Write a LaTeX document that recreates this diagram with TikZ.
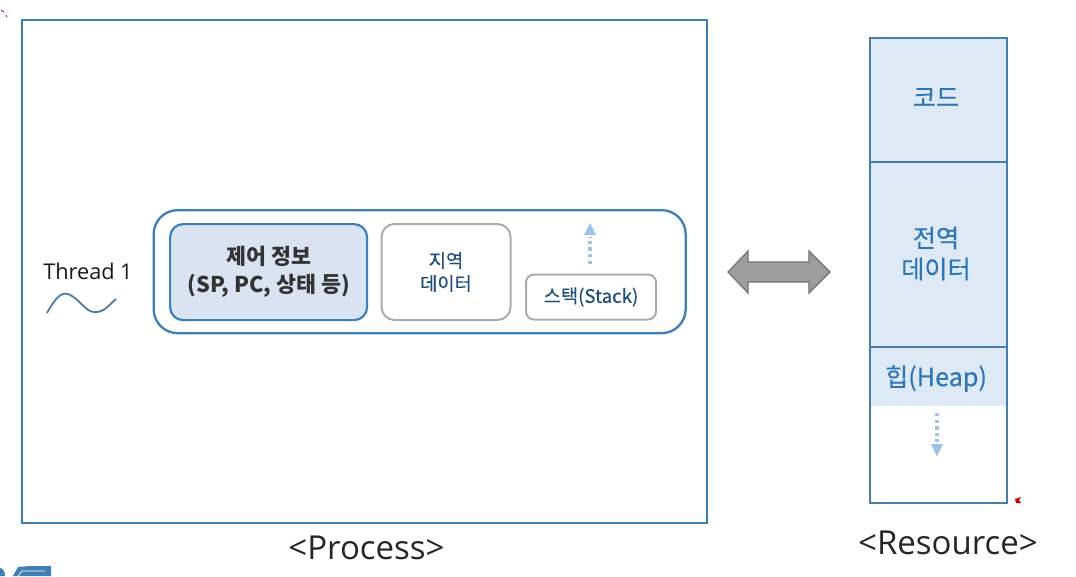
\documentclass[tikz,border=0pt]{standalone}
\usepackage{fontspec}
\setmainfont{Open Sans}
\newfontfamily\kr[FakeBold=0.25]{Noto Sans CJK KR}
\newfontfamily\krb{Noto Sans CJK KR}
\usetikzlibrary{arrows.meta}
\definecolor{frameblue}{HTML}{3E7FB5}
\definecolor{slateblue}{HTML}{4A7DA6}
\definecolor{ctlfill}{HTML}{D9E3F2}
\definecolor{memfill}{HTML}{DDEAF6}
\definecolor{memtext}{HTML}{2E75B6}
\definecolor{darktext}{HTML}{1F4E79}
\definecolor{boxgray}{HTML}{ABABAB}
\definecolor{dotblue}{HTML}{9DC3E6}
\tikzset{
  x=1pt,y=-1pt,
  framebox/.style={draw=frameblue,line width=2.3pt,fill=white},
  roundbox/.style={rounded corners=13pt,line width=2.2pt},
  graybox/.style={draw=boxgray,fill=white,line width=2pt},
  memcell/.style={draw=slateblue,line width=2pt,fill=memfill,minimum width=137pt,inner sep=0pt,anchor=north west},
  memlabel/.style={text=memtext,font=\kr\fontsize{25.2}{31}\selectfont,align=center},
  inlabel/.style={text=darktext,font=\kr\fontsize{18.7}{23}\selectfont,align=center},
  caption/.style={text=black!85,font=\fontsize{33}{38}\selectfont},
  growarrow/.style={draw=dotblue,line width=3.4pt,dash pattern=on 3.4pt off 3.2pt},
  growhead/.style={fill=dotblue,draw=none},
}
\begin{document}
\begin{tikzpicture}
\useasboundingbox (0,0) rectangle (1076,576);
\fill[white] (0,0) rectangle (1076,576);
\begin{scope}[shift={(-1,-1)}]
% process frame
\node[framebox,minimum width=685pt,minimum height=503pt,inner sep=0pt,anchor=north west] (proc) at (22,19.5) {};
\node[caption] (proclabel) at (367.5,549) {<Process>};
% thread
\node[anchor=center,text=black!90,font=\fontsize{21.7}{25}\selectfont] (thr) at (89,272.5) {Thread 1};
\coordinate (w0) at (48,314);
\coordinate (w1) at (117,300);
\draw[slateblue,line width=1.8pt] (w0) .. controls (58,296) and (64,291) .. (73,297) .. controls (84,304) and (88,315) .. (99,313) .. controls (106,312) and (111,305) .. (w1);
% thread block
\node[framebox,rounded corners=24pt,minimum width=532pt,minimum height=123pt,inner sep=0pt,anchor=north west] (tb) at (153.5,210) {};
\node[roundbox,draw=frameblue,fill=ctlfill,minimum width=197pt,minimum height=96pt,inner sep=0pt,anchor=north west,
  font=\krb\bfseries\fontsize{21.7}{28}\selectfont,text=black!80,align=center] (ctl) at (170,224) {제어 정보\\(SP, PC, 상태 등)};
\node[roundbox,graybox,minimum width=129pt,minimum height=96pt,inner sep=0pt,anchor=north west,inlabel] (loc) at (381.5,224) {지역\\데이터};
\node[graybox,rounded corners=8pt,minimum width=130pt,minimum height=45pt,inner sep=0pt,anchor=north west,inlabel] (stk) at (526,274.5) {\raisebox{-1.5pt}{스택(Stack)}};
\coordinate (stkhead) at (591,224);
\coordinate (stktail) at (591,265);
\draw[growarrow] (stktail) -- (591,238);
\fill[growhead] (stkhead) -- (597,236) -- (585,236) -- cycle;
% double arrow
\draw[draw=black!55,fill=black!38,line width=1.2pt,line join=miter] (729,273) -- (749,252) -- (749,263) -- (810,263) -- (810,252) -- (831,273) -- (810,294) -- (810,283) -- (749,283) -- (749,294) -- cycle;
% memory column
\fill[memfill] (869.5,347) rectangle (1006.5,407);
\node[memcell,minimum height=124pt] (code) at (869.5,38) {};
\node[memcell,minimum height=185pt] (data) at (869.5,162) {};
\node[draw=slateblue,line width=2pt,minimum width=137pt,minimum height=156pt,inner sep=0pt,anchor=north west] (heap) at (869.5,347) {};
\node[memlabel] (codet) at (937,98.5) {코드};
\node[memlabel] (datat) at (937,254.5) {전역\\데이터};
\node[memlabel] (heapt) at (937,379.5) {힙(Heap)};
\coordinate (hptail) at (938,414);
\coordinate (hphead) at (938,457.5);
\draw[growarrow] (hptail) -- (938,443);
\fill[growhead] (hphead) -- (932,445) -- (944,445) -- cycle;
\node[caption] (reslabel) at (949,544) {<Resource>};
\end{scope}
% stray marks
\fill[red!80!black] (1015,499) -- (1021,497) -- (1019,500) -- (1021,503) -- (1016,503) -- cycle;
\draw[red!70!black,line width=.8pt] (1,10) -- (4,12) (6,15) -- (7,17);
% logo fragment
\fill[frameblue] (13,576) -- (18,567) -- (30,566) -- (51,566) -- (51,576) -- cycle;
\draw[white,line width=.7pt] (18,576) -- (22,571) -- (45,571);
\fill[frameblue] (0,568) .. controls (3,568) and (5,572) .. (5,576) -- (0,576) -- cycle;
\end{tikzpicture}
\end{document}
